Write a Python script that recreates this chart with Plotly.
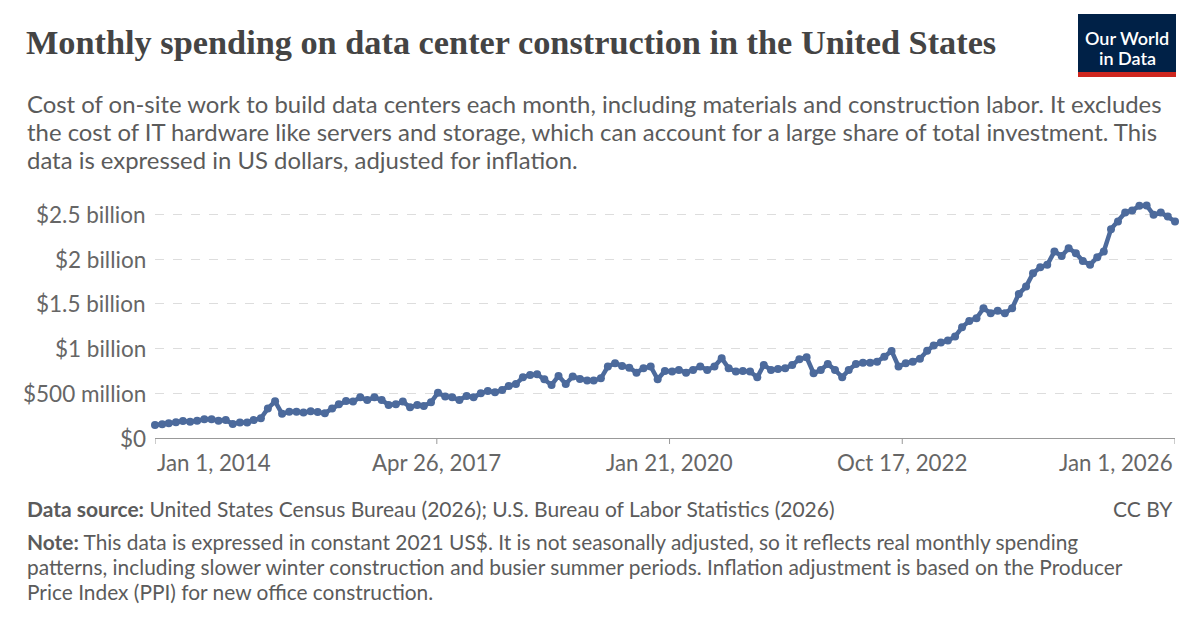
import plotly.graph_objects as go
import pandas as pd

# ---------------- data ----------------
start_month = "2014-01-01"
spending_billion_usd = [
    0.146, 0.153, 0.164, 0.175, 0.190, 0.183, 0.194, 0.209, 0.209, 0.194, 0.200, 0.157,
    0.172, 0.172, 0.200, 0.220, 0.330, 0.410, 0.270, 0.295, 0.295, 0.284, 0.300, 0.290,
    0.276, 0.330, 0.377, 0.414, 0.407, 0.455, 0.425, 0.455, 0.425, 0.370, 0.377, 0.407,
    0.343, 0.369, 0.358, 0.399, 0.507, 0.463, 0.455, 0.425, 0.470, 0.455, 0.500, 0.526,
    0.511, 0.537, 0.582, 0.604, 0.679, 0.705, 0.713, 0.657, 0.593, 0.694, 0.604, 0.687,
    0.660, 0.642, 0.642, 0.668, 0.800, 0.836, 0.806, 0.787, 0.731, 0.780, 0.800, 0.657,
    0.750, 0.743, 0.761, 0.731, 0.761, 0.800, 0.761, 0.800, 0.892, 0.780, 0.743, 0.750,
    0.743, 0.679, 0.817, 0.761, 0.772, 0.780, 0.817, 0.881, 0.903, 0.724, 0.761, 0.828,
    0.761, 0.679, 0.761, 0.828, 0.843, 0.843, 0.854, 0.910, 0.974, 0.800, 0.836, 0.854,
    0.886, 0.975, 1.034, 1.067, 1.090, 1.134, 1.239, 1.310, 1.340, 1.451, 1.396, 1.422,
    1.396, 1.451, 1.612, 1.694, 1.843, 1.910, 1.937, 2.086, 2.037, 2.123, 2.067, 1.981,
    1.937, 2.022, 2.086, 2.336, 2.422, 2.522, 2.545, 2.597, 2.601, 2.496, 2.522, 2.478,
    2.422,
]
months = pd.date_range(start_month, periods=len(spending_billion_usd), freq="MS")

y_tick_values = [0, 0.5, 1.0, 1.5, 2.0, 2.5]
y_tick_labels = ["$0", "$500 million", "$1 billion", "$1.5 billion", "$2 billion", "$2.5 billion"]
x_tick_dates = ["2014-01-01", "2017-04-26", "2020-01-21", "2022-10-17", "2026-01-01"]
x_tick_labels = ["Jan 1, 2014", "Apr 26, 2017", "Jan 21, 2020", "Oct 17, 2022", "Jan 1, 2026"]

title_text = "Monthly spending on data center construction in the United States"
subtitle_lines = [
    "Cost of on-site work to build data centers each month, including materials and construction labor. It excludes",
    "the cost of IT hardware like servers and storage, which can account for a large share of total investment. This",
    "data is expressed in US dollars, adjusted for inflation.",
]
source_text = "<b>Data source:</b> United States Census Bureau (2026); U.S. Bureau of Labor Statistics (2026)"
note_lines = [
    "<b>Note:</b> This data is expressed in constant 2021 US$. It is not seasonally adjusted, so it reflects real monthly spending",
    "patterns, including slower winter construction and busier summer periods. Inflation adjustment is based on the Producer",
    "Price Index (PPI) for new office construction.",
]

# ---------------- layout geometry ----------------
W, H = 1200, 627
PL, PR = 155, 1175          # plot area left/right (px)
PT, PB = 204, 438           # plot area top/bottom (px)
Y_MAX = (PB - PT) / 89.4    # keep 89.4 px per billion

def px(x):
    return (x - PL) / (PR - PL)

def py(y):
    return (PB - y) / (PB - PT)

LINE_COLOR = "#4c6a9c"
TEXT_GREY = "#5b5b5b"
AXIS_GREY = "#666666"

fig = go.Figure()
fig.add_trace(go.Scatter(
    x=months, y=spending_billion_usd, mode="lines+markers",
    line=dict(color=LINE_COLOR, width=4.5),
    marker=dict(color=LINE_COLOR, size=8),
    cliponaxis=False, hoverinfo="skip", showlegend=False,
))

annotations = []
shapes = []

# title
annotations.append(dict(text="<b>" + title_text + "</b>", x=px(24), y=py(42), xref="paper", yref="paper",
                        xanchor="left", yanchor="middle", showarrow=False,
                        font=dict(family="Liberation Serif", size=34.3, color="#444444")))
# subtitle
for i, line in enumerate(subtitle_lines):
    annotations.append(dict(text=line, x=px(25), y=py(103 + 28 * i), xref="paper", yref="paper",
                            xanchor="left", yanchor="middle", showarrow=False,
                            font=dict(family="Lato", size=23.9, color=TEXT_GREY)))

# logo
shapes.append(dict(type="rect", xref="paper", yref="paper", x0=px(1078), x1=px(1176),
                   y0=py(77), y1=py(14), fillcolor="#002147", line=dict(width=0), layer="above"))
shapes.append(dict(type="rect", xref="paper", yref="paper", x0=px(1078), x1=px(1176),
                   y0=py(77), y1=py(72), fillcolor="#ce261e", line=dict(width=0), layer="above"))
for t, yy in [("Our World", 38), ("in Data", 58)]:
    annotations.append(dict(text=t, x=px(1127), y=py(yy), xref="paper", yref="paper",
                            xanchor="center", yanchor="middle", showarrow=False,
                            font=dict(family="Lato", size=18, color="white", weight=600)))

# y tick labels
for v, lab in zip(y_tick_values, y_tick_labels):
    annotations.append(dict(text=lab, x=px(148), y=v, xref="paper", yref="y",
                            xanchor="right", yanchor="middle", showarrow=False,
                            font=dict(family="Lato", size=22.5, color=AXIS_GREY)))

# x tick labels and tick marks
for i, (d, lab) in enumerate(zip(x_tick_dates, x_tick_labels)):
    anchor = "left" if i == 0 else ("right" if i == len(x_tick_dates) - 1 else "center")
    annotations.append(dict(text=lab, x=d, y=py(462), xref="x", yref="paper",
                            xanchor=anchor, yanchor="middle", showarrow=False,
                            font=dict(family="Lato", size=22.3, color=AXIS_GREY)))
    shapes.append(dict(type="line", xref="x", yref="paper", x0=d, x1=d,
                       y0=py(438), y1=py(444), line=dict(color="#999999", width=1)))

# footer
annotations.append(dict(text=source_text, x=px(25), y=py(508), xref="paper", yref="paper",
                        xanchor="left", yanchor="middle", showarrow=False,
                        font=dict(family="Lato", size=21, color=TEXT_GREY)))
annotations.append(dict(text="CC BY", x=px(1175), y=py(508), xref="paper", yref="paper",
                        xanchor="right", yanchor="middle", showarrow=False,
                        font=dict(family="Lato", size=21, color=TEXT_GREY)))
for i, line in enumerate(note_lines):
    annotations.append(dict(text=line, x=px(25), y=py(541 + 25 * i), xref="paper", yref="paper",
                            xanchor="left", yanchor="middle", showarrow=False,
                            font=dict(family="Lato", size=20.9, color=TEXT_GREY)))

fig.update_layout(
    width=W, height=H,
    margin=dict(l=PL, r=W - PR, t=PT, b=H - PB, pad=0),
    paper_bgcolor="white", plot_bgcolor="white",
    font=dict(family="Lato", color=AXIS_GREY),
    xaxis=dict(type="date", range=["2014-01-01", "2026-01-01"], showgrid=False,
               showticklabels=False, ticks="", zeroline=False,
               showline=True, linecolor="#999999", linewidth=1, fixedrange=True),
    yaxis=dict(range=[0, Y_MAX], tickvals=y_tick_values, showticklabels=False,
               showgrid=True, gridcolor="#dddddd", griddash="dash", gridwidth=1,
               zeroline=False, showline=False, ticks="", fixedrange=True),
    annotations=annotations, shapes=shapes,
)

fig.write_html("out.html")
